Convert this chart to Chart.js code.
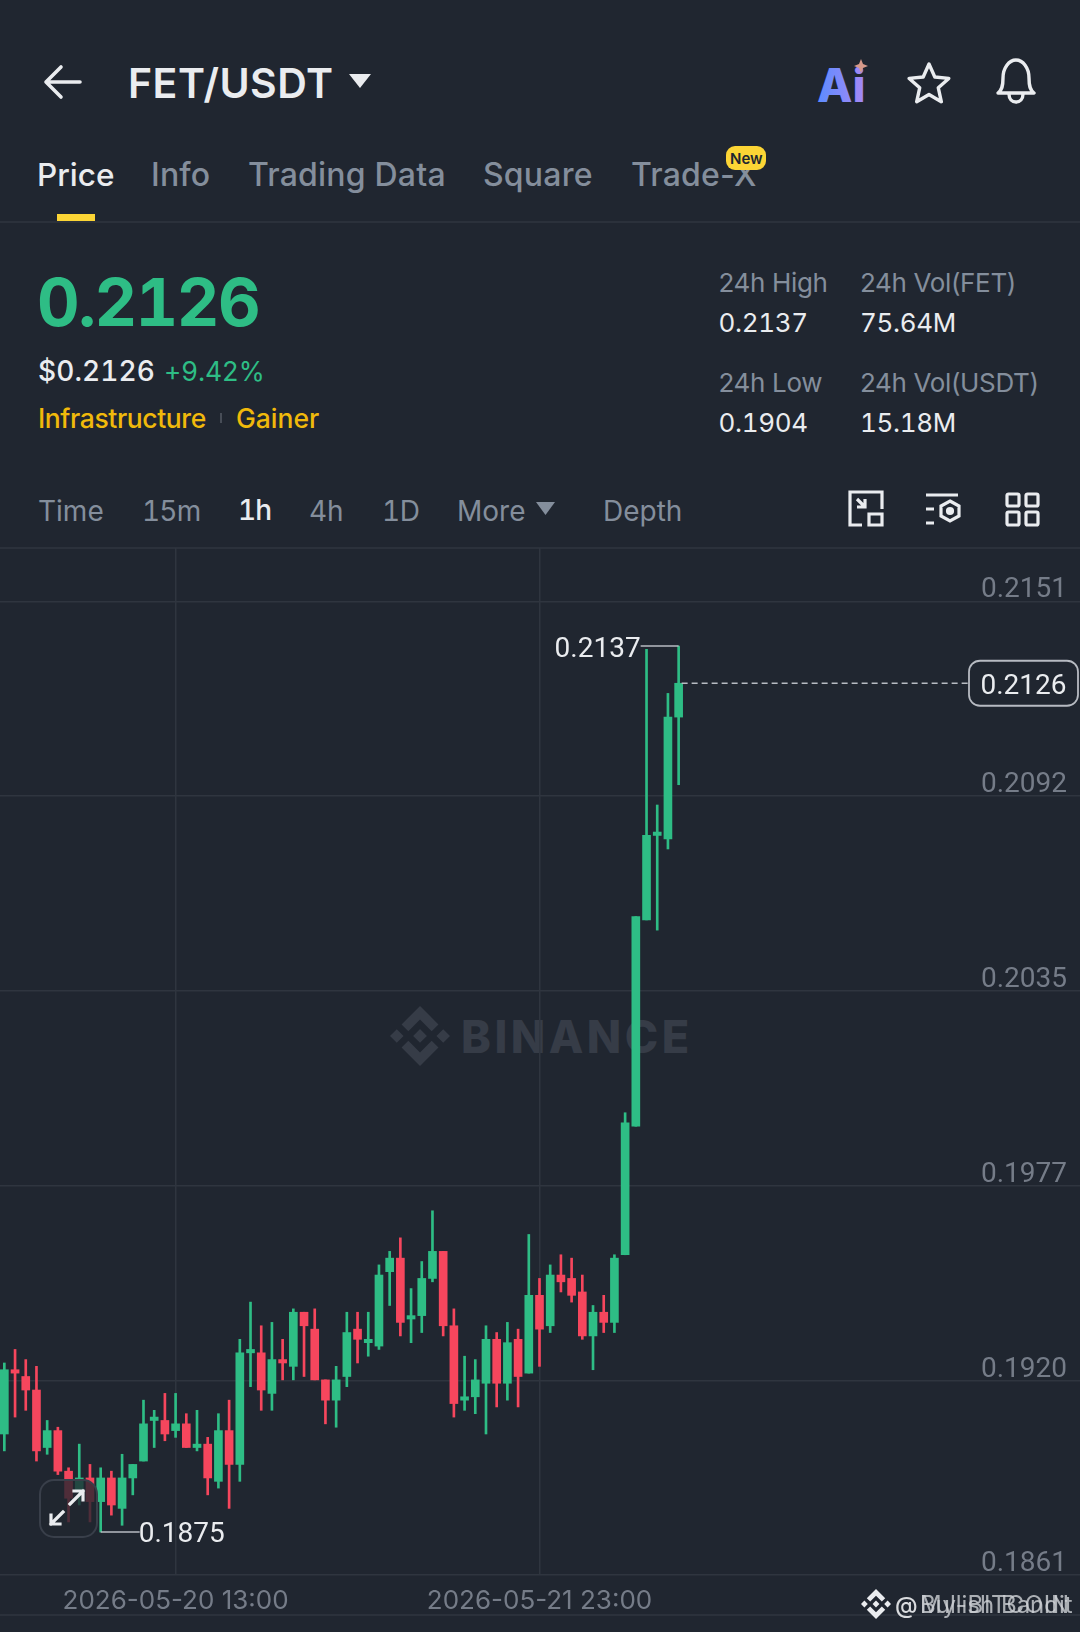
<!DOCTYPE html>
<html><head><meta charset="utf-8">
<script src="https://cdn.jsdelivr.net/npm/chart.js@4"></script>
<style>
html,body{margin:0;padding:0;background:#202630;width:1080px;height:1632px;overflow:hidden;font-family:Inter,"Noto Sans",sans-serif}
.n{font-feature-settings:"tnum" 1;font-variant-numeric:tabular-nums}
.t{position:absolute;white-space:nowrap;transform:translateY(-50%);line-height:1}
.g{color:#848e9c}.w{color:#eaecef}
.tab{font-size:32px;font-weight:500;letter-spacing:.2px}
.st{font-size:26px;font-weight:400}
.st.g{letter-spacing:-.35px}
.st.w{letter-spacing:-.35px}
.tf{font-size:28px;font-weight:400;color:#848e9c}
svg,.abs{position:absolute}
canvas{position:absolute;left:-1px;top:548px}
</style></head><body>
<svg style="left:42px;top:63px" width="42" height="38" viewBox="0 0 42 38" fill="none" stroke="#eaecef" stroke-width="3.6" stroke-linecap="round" stroke-linejoin="round"><path d="M38 19H4M19 4L4 19l15 15"/></svg>
<div class="t w" style="left:128px;top:83px;font-size:41px;font-weight:600;letter-spacing:.5px">FET/USDT</div>
<svg style="left:348px;top:73px" width="24" height="16"><path d="M1 1h22L12 15z" fill="#eaecef"/></svg>
<svg style="left:817px;top:56px" width="54" height="50"><defs><linearGradient id="ai" x1="0" x2="1" y1="0" y2="0"><stop offset="0" stop-color="#5b8cff"/><stop offset="1" stop-color="#a788f5"/></linearGradient></defs><text x="0" y="46" font-family="Inter" font-weight="800" font-size="46" fill="url(#ai)">Ai</text><path d="M44 3l2 5 5 2-5 2-2 5-2-5-5-2 5-2z" fill="#d79a8a"/></svg>
<svg style="left:906px;top:60px" width="46" height="44" fill="none" stroke="#eaecef" stroke-width="3.4" stroke-linejoin="round"><path d="M23 4l5.800 13 14 1.400-10.500 9.400 3 13.900-12.300-7.200-12.300 7.200 3-13.900L3.200 18.400l14-1.400z"/></svg>
<svg style="left:994px;top:56px" width="44" height="50" fill="none" stroke="#eaecef" stroke-width="3.4" stroke-linejoin="round" stroke-linecap="round"><path d="M4 37c4-3 5-7 5-15 0-10 6-18 13-18s13 8 13 18c0 8 1 12 5 15z"/><path d="M15 38c0 5 3 8 7 8s7-3 7-8"/></svg>

<div class="t tab w" style="left:37px;top:175px;font-size:31.500px;letter-spacing:0;">Price</div>
<div class="t tab g" style="left:151px;top:175px">Info</div>
<div class="t tab g" style="left:248px;top:175px">Trading Data</div>
<div class="t tab g" style="left:483px;top:175px">Square</div>
<div class="t tab g" style="left:631px;top:175px">Trade-X</div>
<div class="abs" style="left:726px;top:146px;width:40px;height:24px;border-radius:9px;background:#fcd535"></div>
<div class="t" style="left:730px;top:158px;font-size:15px;font-weight:600;color:#202630">New</div>
<div class="abs" style="left:57px;top:214px;width:38px;height:7px;background:#fcd535"></div>
<div class="abs" style="left:0;top:221px;width:1080px;height:2px;background:#2b313b"></div>

<div class="t n" style="left:37px;top:302px;font-size:66px;font-weight:700;color:#2ebd85;letter-spacing:-1.5px">0.2126</div>
<div class="t w n" style="left:38px;top:371px;font-size:28px;font-weight:500;letter-spacing:.1px">$0.2126</div>
<div class="t n" style="left:164px;top:371px;font-size:26.5px;font-weight:400;color:#2ebd85;letter-spacing:-.2px">+9.42%</div>
<div class="t" style="left:38px;top:418px;font-size:26.500px;font-weight:500;color:#f0b90b;letter-spacing:-.4px">Infrastructure</div>
<div class="abs" style="left:220px;top:413px;width:2px;height:10px;background:#474d57"></div>
<div class="t" style="left:236px;top:418px;font-size:26.500px;font-weight:500;color:#f0b90b">Gainer</div>

<div class="t st g" style="left:718.500px;top:283px">24h High</div>
<div class="t st w n" style="left:718.500px;top:323px">0.2137</div>
<div class="t st g" style="left:860px;top:283px">24h Vol(FET)</div>
<div class="t st w n" style="left:860px;top:323px">75.64M</div>
<div class="t st g" style="left:718.500px;top:383px">24h Low</div>
<div class="t st w n" style="left:718.500px;top:423px">0.1904</div>
<div class="t st g" style="left:860px;top:383px">24h Vol(USDT)</div>
<div class="t st w n" style="left:860px;top:423px">15.18M</div>

<div class="t tf" style="left:38px;top:511px">Time</div>
<div class="t tf n" style="left:142px;top:511px;letter-spacing:-.8px">15m</div>
<div class="t tf w n" style="left:238px;top:510px;color:#eaecef;font-weight:500;letter-spacing:-.8px">1h</div>
<div class="t tf" style="left:309px;top:511px">4h</div>
<div class="t tf n" style="left:382px;top:511px;letter-spacing:-.5px">1D</div>
<div class="t tf" style="left:457px;top:511px">More</div>
<svg style="left:536px;top:502px" width="19" height="14"><path d="M0 0h19L9.500 13z" fill="#848e9c"/></svg>
<div class="t tf" style="left:603px;top:511px">Depth</div>
<svg style="left:848px;top:490px" width="36" height="38" fill="none" stroke="#eaecef" stroke-width="3.200"><path d="M14 2H2v33h12M2 2h32v17M21 35h13V24H21zM9 9l8 8M17 9v8H9"/></svg>
<svg style="left:924px;top:492px" width="40" height="36" fill="none" stroke="#eaecef" stroke-width="3.200"><path d="M2 3h32M2 17h8M2 31h8"/><path d="M26 9l9 5v10l-9 5-9-5V14z"/><circle cx="26" cy="19" r="2.500" fill="#eaecef"/></svg>
<svg style="left:1005px;top:492px" width="36" height="36" fill="none" stroke="#eaecef" stroke-width="3.200" stroke-linejoin="round"><rect x="2" y="2" width="12" height="12" rx="1.500"/><rect x="21" y="2" width="12" height="12" rx="1.500"/><rect x="2" y="20" width="12" height="13" rx="1.500"/><rect x="21" y="20" width="12" height="13" rx="1.500"/></svg>
<div class="abs" style="left:0;top:547px;width:1080px;height:2px;background:#2b313b"></div>

<svg style="left:390px;top:1006px" width="60" height="60" viewBox="0 0 126.610 126.610"><path fill="#363c47" d="M38.730 53.200l24.590-24.580 24.600 24.600 14.300-14.310L63.320 0 24.420 38.900zM0 63.310l14.300-14.310 14.310 14.310-14.310 14.300zM38.730 73.410l24.590 24.590 24.600-24.600 14.310 14.290-38.900 38.910-38.910-38.880-.02-.02zM98 63.310l14.300-14.310 14.310 14.300-14.310 14.320zM77.830 63.300L63.320 48.780 52.590 59.510l-1.240 1.230-2.540 2.540 14.510 14.500 14.510-14.510z"/></svg>
<div class="t" style="left:461px;top:1036px;font-size:45px;font-weight:800;color:#363c47;letter-spacing:3.500px">BINANCE</div>
<div class="abs" style="left:0;top:1614px;width:1080px;height:2px;background:#2b313b"></div>

<canvas id="c" width="1081" height="1084" style="width:1081px;height:1084px"></canvas>

<div class="abs" style="left:39px;top:1479px;width:55px;height:55px;border:2px solid #393f4a;border-radius:15px;background:rgba(32,38,48,.78)"></div>
<svg style="left:48px;top:1488px" width="38" height="38" fill="none" stroke="#eaecef" stroke-width="3.200" stroke-linecap="square"><path d="M3 36L15 24M3 27v9h9"/><path d="M35 3L22 16M26 3h9v9"/></svg>

<svg style="left:861px;top:1589px" width="30" height="30" viewBox="0 0 126.610 126.610"><path fill="#eaecef" d="M38.730 53.200l24.590-24.580 24.600 24.600 14.300-14.310L63.320 0 24.420 38.900zM0 63.310l14.300-14.310 14.310 14.310-14.310 14.300zM38.730 73.410l24.590 24.590 24.600-24.600 14.310 14.290-38.900 38.910-38.910-38.880-.02-.02zM98 63.310l14.300-14.310 14.310 14.300-14.310 14.320zM77.830 63.300L63.320 48.780 52.590 59.510l-1.240 1.230-2.540 2.540 14.510 14.500 14.510-14.510z"/></svg>
<div class="t" style="left:895px;top:1605px;font-size:23px;font-weight:500;color:#d9dbde">@</div>
<div class="t" style="left:920px;top:1605px;font-size:24px;font-weight:400;color:#cfd2d6;opacity:.8">Bullish Bandit</div>
<div class="t" style="left:920px;top:1605px;font-size:24px;font-weight:400;color:#cfd2d6;opacity:.8;letter-spacing:.7px">My-BITCOIN</div>

<script>
const categoryCount = 101;
const startHour = Date.UTC(2026, 4, 19, 21);
const pad = n => String(n).padStart(2, '0');
const categories = [];
for (let i = 0; i < categoryCount; i++) {
  const d = new Date(startHour + i * 3600000);
  categories.push(`${d.getUTCFullYear()}-${pad(d.getUTCMonth() + 1)}-${pad(d.getUTCDate())} ${pad(d.getUTCHours())}:00`);
}
const opens = [0.1904,0.1923,0.1921,0.1917,0.1900,0.1905,0.1893,0.1887,0.1891,0.1884,0.1891,0.1882,0.1891,0.1896,0.1908,0.1908,0.1905,0.1907,0.1900,0.1901,0.1890,0.1905,0.1895,0.1928,0.1928,0.1916,0.1926,0.1924,0.1940,0.1935,0.1920,0.1914,0.1921,0.1935,0.1931,0.1930,0.1952,0.1956,0.1938,0.1939,0.1950,0.1958,0.1936,0.1914,0.1915,0.1919,0.1932,0.1919,0.1932,0.1922,0.1945,0.1936,0.1951,0.1950,0.1946,0.1933,0.1940,0.1937,0.1957,0.1995,0.2056,0.2081,0.2080,0.2116];
const closes = [0.1923,0.1922,0.1917,0.1899,0.1905,0.1893,0.1885,0.1891,0.1884,0.1891,0.1883,0.1891,0.1895,0.1907,0.1909,0.1904,0.1907,0.1900,0.1901,0.1891,0.1905,0.1895,0.1928,0.1929,0.1917,0.1926,0.1925,0.1940,0.1936,0.1920,0.1914,0.1920,0.1934,0.1932,0.1932,0.1951,0.1956,0.1937,0.1939,0.1950,0.1958,0.1936,0.1913,0.1915,0.1920,0.1932,0.1919,0.1931,0.1921,0.1945,0.1935,0.1951,0.1949,0.1945,0.1933,0.1940,0.1937,0.1956,0.1996,0.2057,0.2081,0.2082,0.2116,0.2126];
const highs = [0.1925,0.1929,0.1926,0.1924,0.1908,0.1906,0.1894,0.1901,0.1895,0.1894,0.1893,0.1898,0.1895,0.1914,0.1911,0.1916,0.1916,0.1910,0.1911,0.1903,0.1910,0.1914,0.1932,0.1943,0.1936,0.1937,0.1932,0.1941,0.1940,0.1941,0.1920,0.1924,0.1940,0.1940,0.1940,0.1954,0.1958,0.1962,0.1947,0.1955,0.1970,0.1958,0.1941,0.1927,0.1926,0.1936,0.1934,0.1937,0.1935,0.1963,0.1950,0.1954,0.1957,0.1956,0.1951,0.1942,0.1945,0.1957,0.1999,0.2057,0.2136,0.2090,0.2123,0.2137];
const lows = [0.1899,0.1909,0.1911,0.1896,0.1898,0.1892,0.1878,0.1883,0.1878,0.1875,0.1880,0.1877,0.1886,0.1896,0.1900,0.1902,0.1903,0.1900,0.1899,0.1886,0.1888,0.1882,0.1890,0.1918,0.1911,0.1911,0.1920,0.1920,0.1921,0.1920,0.1907,0.1906,0.1918,0.1925,0.1927,0.1929,0.1942,0.1933,0.1931,0.1934,0.1949,0.1933,0.1909,0.1911,0.1910,0.1904,0.1912,0.1914,0.1912,0.1922,0.1924,0.1934,0.1946,0.1943,0.1932,0.1923,0.1934,0.1934,0.1957,0.1995,0.2056,0.2053,0.2077,0.2096];
const xTickLabels = ['2026-05-20 13:00', '2026-05-21 23:00'];
const yTickValues = [0.21502, 0.20926, 0.20350, 0.19774, 0.19197, 0.18623];
const yTickLabels = ['0.2151', '0.2092', '0.2035', '0.1977', '0.1920', '0.1861'];
const lastPrice = 0.2126, highMark = 0.2137, lowMark = 0.1875;

const UP = '#2ebd85', DOWN = '#f6465d', GRID = '#2f353f', AXIS = '#757c88';
const colors = closes.map((c, i) => c >= opens[i] ? UP : DOWN);

const marks = {
  id: 'marks',
  afterDatasetsDraw(chart) {
    const { ctx, scales: { x, y } } = chart;
    const lastIdx = closes.length - 1;
    const lowIdx = lows.indexOf(lowMark);
    ctx.save();
    ctx.font = '400 28px Roboto';
    ctx.textBaseline = 'middle';
    // highest price
    const hy = y.getPixelForValue(highMark), hx = x.getPixelForValue(lastIdx);
    ctx.strokeStyle = '#b7bbc2'; ctx.lineWidth = 1.5;
    ctx.beginPath(); ctx.moveTo(hx, hy); ctx.lineTo(hx - 38, hy); ctx.stroke();
    ctx.fillStyle = '#eaecef'; ctx.textAlign = 'right';
    ctx.fillText(highMark.toFixed(4), hx - 38, hy + 4);
    // lowest price
    const ly = y.getPixelForValue(lowMark), lx = x.getPixelForValue(lowIdx);
    ctx.beginPath(); ctx.moveTo(lx, ly); ctx.lineTo(lx + 39, ly); ctx.stroke();
    ctx.textAlign = 'left';
    ctx.fillText(lowMark.toFixed(4), lx + 38, ly + 3);
    // last price
    const py = y.getPixelForValue(lastPrice);
    ctx.setLineDash([6, 4]);
    ctx.beginPath(); ctx.moveTo(hx + 3, py); ctx.lineTo(970, py); ctx.stroke();
    ctx.setLineDash([]);
    ctx.beginPath(); ctx.roundRect(970, py - 22.5, 109, 45, 11);
    ctx.fillStyle = '#202630'; ctx.fill();
    ctx.strokeStyle = '#b7bbc2'; ctx.lineWidth = 1.8; ctx.stroke();
    ctx.fillStyle = '#eaecef'; ctx.textAlign = 'center';
    ctx.fillText(lastPrice.toFixed(4), 1024.5, py + 4);
    ctx.restore();
  }
};

new Chart(document.getElementById('c'), {
  data: {
    labels: categories,
    datasets: [
      { type: 'bar', label: 'Wick', data: highs.map((h, i) => [lows[i], h]), backgroundColor: colors, barThickness: 2, grouped: false, borderSkipped: false, order: 2 },
      { type: 'bar', label: 'Body', data: opens.map((o, i) => [o, closes[i]]), backgroundColor: colors, barThickness: 8, grouped: false, borderSkipped: false, order: 1 }
    ]
  },
  options: {
    responsive: false,
    animation: false,
    devicePixelRatio: 1,
    layout: { padding: 0 },
    plugins: { legend: { display: false }, tooltip: { enabled: false } },
    scales: {
      x: {
        type: 'category', offset: true,
        grid: { color: GRID, offset: false, drawTicks: false, lineWidth: 1.5 },
        border: { display: false },
        afterBuildTicks: s => { s.ticks = s.ticks.filter(t => xTickLabels.includes(categories[t.value])); },
        afterFit: s => { s.height = 57; s.paddingLeft = 0; s.paddingRight = 0; },
        ticks: { autoSkip: false, maxRotation: 0, minRotation: 0, color: AXIS, font: { family: 'Inter', size: 26 }, padding: 11,
          callback: (v) => categories[v] }
      },
      y: {
        type: 'linear', position: 'right',
        min: 0.18623, max: 0.21660,
        grid: { color: GRID, drawTicks: false, lineWidth: 1.5 },
        border: { display: false },
        afterBuildTicks: s => { s.ticks = yTickValues.map(v => ({ value: v })); },
        afterFit: s => { s.width = 0; s.paddingTop = 0; s.paddingBottom = 0; },
        ticks: { mirror: true, padding: -13, labelOffset: -11, color: AXIS, font: { family: 'Roboto', size: 28 },
          callback: v => yTickLabels[yTickValues.indexOf(v)] }
      }
    }
  },
  plugins: [marks]
});
</script>
</body></html>
